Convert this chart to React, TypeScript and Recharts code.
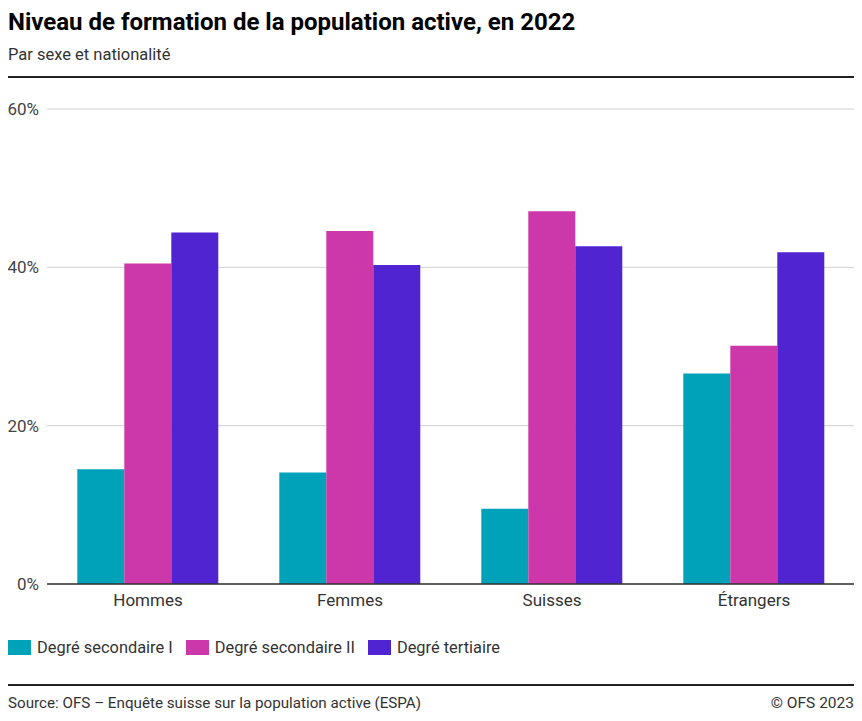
import React from "react";
import { BarChart, Bar, XAxis, YAxis, CartesianGrid } from "recharts";

const categories = ["Hommes", "Femmes", "Suisses", "Étrangers"];
const secondaireI = [14.5, 14.1, 9.5, 26.6];
const secondaireII = [40.5, 44.6, 47.1, 30.1];
const tertiaire = [44.4, 40.3, 42.65, 41.9];
const yTicks = [0, 20, 40, 60];

const seriesNames = ["Degré secondaire I", "Degré secondaire II", "Degré tertiaire"];
const colors = ["#00a2b9", "#cc37a9", "#5025d1"];

const data = categories.map((c, i) => ({
  name: c,
  s1: secondaireI[i],
  s2: secondaireII[i],
  t: tertiaire[i],
}));

const FONT = "Roboto, 'Noto Sans', sans-serif";

export default function App() {
  return (
    <div style={{ position: "relative", width: 854, height: 713, fontFamily: FONT, color: "#222" }}>
      <div style={{ position: "absolute", left: 0, top: 2, fontSize: 24, lineHeight: "24px", fontWeight: 700, color: "#000", whiteSpace: "nowrap" }}>
        Niveau de formation de la population active, en 2022
      </div>
      <div style={{ position: "absolute", left: 0, top: 39, fontSize: 16.5, lineHeight: "16.5px", color: "#333", whiteSpace: "nowrap" }}>
        Par sexe et nationalité
      </div>
      <div style={{ position: "absolute", left: 0, top: 68, width: 847, height: 2, background: "#222" }} />

      <div style={{ position: "absolute", left: 0, top: 88 }}>
        <BarChart
          width={854}
          height={518}
          data={data}
          margin={{ top: 13, right: 7, bottom: 0, left: 0 }}
          barCategoryGap="15%"
          barGap={0}
        >
          <CartesianGrid horizontal vertical={false} stroke="#cfcfcf" strokeWidth={1} />
          <XAxis
            dataKey="name"
            height={30}
            tickLine={false}
            axisLine={{ stroke: "#333", strokeWidth: 1.5 }}
            tick={{ fill: "#333", fontSize: 17, fontFamily: FONT }}
            tickMargin={4}
          />
          <YAxis
            width={39}
            domain={[0, 60]}
            ticks={yTicks}
            tickLine={false}
            axisLine={false}
            tickFormatter={(v: number) => `${v}%`}
            tick={{ fill: "#444", fontSize: 17, fontFamily: FONT }}
          />
          <Bar dataKey="s1" name={seriesNames[0]} fill={colors[0]} isAnimationActive={false} />
          <Bar dataKey="s2" name={seriesNames[1]} fill={colors[1]} isAnimationActive={false} />
          <Bar dataKey="t" name={seriesNames[2]} fill={colors[2]} isAnimationActive={false} />
        </BarChart>
      </div>

      <div style={{ position: "absolute", left: 0, top: 631, display: "flex", alignItems: "flex-start", whiteSpace: "nowrap" }}>
        {seriesNames.map((n, i) => (
          <div key={n} style={{ display: "flex", alignItems: "flex-start", marginRight: 13 }}>
            <div style={{ width: 23, height: 15, background: colors[i], marginTop: 1, marginRight: 6 }} />
            <span style={{ fontSize: 16.4, lineHeight: "17px", color: "#333" }}>{n}</span>
          </div>
        ))}
      </div>

      <div style={{ position: "absolute", left: 0, top: 676, width: 847, height: 2, background: "#222" }} />
      <div style={{ position: "absolute", left: 0, top: 688, fontSize: 15.2, lineHeight: "15px", color: "#333", whiteSpace: "nowrap" }}>
        Source: OFS – Enquête suisse sur la population active (ESPA)
      </div>
      <div style={{ position: "absolute", right: 8, top: 688, fontSize: 15.5, lineHeight: "15px", color: "#333", whiteSpace: "nowrap" }}>
        © OFS 2023
      </div>
    </div>
  );
}
